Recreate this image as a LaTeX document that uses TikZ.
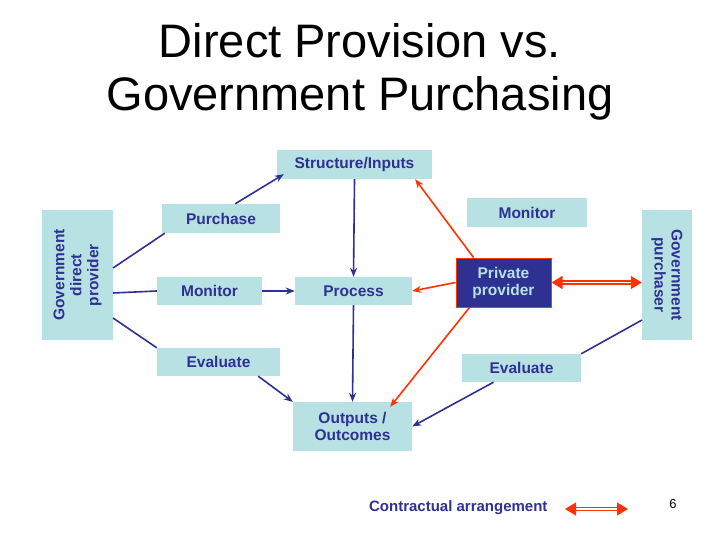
\documentclass[tikz,border=0pt]{standalone}
\usepackage{fontspec}
\setmainfont{Liberation Sans}
\usetikzlibrary{arrows.meta}
\definecolor{bx}{HTML}{B7E1E3}
\definecolor{nv}{HTML}{2E3192}
\definecolor{og}{HTML}{FF3300}
\begin{document}
\begin{tikzpicture}[x=1pt,y=-1pt,
 box/.style={fill=bx,draw=none,text=nv,font=\fontsize{15.5}{17}\selectfont\bfseries,align=center,inner sep=0pt},
 bl/.style={draw=nv,line width=1.6pt},
 ba/.style={bl,-{Stealth[length=9pt,width=7pt]}},
 oa/.style={draw=og,line width=1.6pt,-{Stealth[length=9pt,width=7pt]}},
 dbl/.style={draw=og,double=white,double distance=1.8pt,line width=1.2pt,{Triangle[length=11pt,width=13pt,fill=og]}-{Triangle[length=11pt,width=13pt,fill=og]}}]
\useasboundingbox (0,0) rectangle (720,540);
\node[font=\fontsize{47}{53}\selectfont,align=center] (t) at (360,72) {Direct Provision vs.\\Government Purchasing};
\node[box,minimum width=155pt,minimum height=29pt] (si) at (354.5,164.5) {Structure/Inputs};
\node[box,minimum width=118pt,minimum height=29pt] (pu) at (221,218.5) {Purchase};
\node[box,minimum width=120pt,minimum height=29pt] (mr) at (527,212.5) {Monitor};
\node[box,minimum width=130pt,minimum height=71pt,rotate=90] (gd) at (77.5,275) {Government\\direct\\provider};
\node[box,minimum width=130pt,minimum height=50pt,rotate=-90] (gp) at (667,275) {Government\\purchaser};
\node[box,minimum width=105pt,minimum height=28pt] (ml) at (209.5,291) {Monitor};
\node[box,minimum width=117pt,minimum height=28pt] (pr) at (353.5,291) {Process};
\node[box,fill=nv,draw=og,line width=1pt,text=bx,minimum width=95pt,minimum height=49pt] (pp) at (503.5,282.5) {Private\\provider};
\node[box,minimum width=123pt,minimum height=28pt] (el) at (218.5,362) {Evaluate};
\node[box,minimum width=119pt,minimum height=28pt] (er) at (521.5,368) {Evaluate};
\node[box,minimum width=119pt,minimum height=49pt] (oo) at (352.5,426.5) {Outputs /\\Outcomes};
\node[text=nv,font=\fontsize{15}{17}\selectfont\bfseries,anchor=east] (lg) at (551,508) {Contractual arrangement};
\node[font=\fontsize{13}{15}\selectfont] (pg) at (673,504) {6};
\coordinate (la) at (565,509); \coordinate (lb) at (628,509);
\coordinate (gd1) at (113,268); \coordinate (gd2) at (113,293); \coordinate (gd3) at (113,318);
\coordinate (gp1) at (642,320);
% blue connectors
\draw[bl] (gd1) -- ([xshift=3pt]pu.south west);
\draw[ba] ([xshift=-45pt]pu.north east) -- ([xshift=7pt,yshift=5pt]si.south west);
\draw[bl] (gd2) -- (ml.west);
\draw[ba] (ml.east) -- (pr.west);
\draw[bl] (gd3) -- (el.north west);
\draw[ba] ([xshift=-22pt]el.south east) -- (oo.north west);
\draw[ba] (si.south) -- (pr.north);
\draw[ba] (pr.south) -- (oo.north);
\draw[bl] (gp1) -- (er.north east);
\draw[ba] ([xshift=-28pt]er.south) -- (oo.east);
% orange connectors
\draw[oa] ([xshift=18pt]pp.north west) -- ([xshift=-17pt]si.south east);
\draw[oa] (pp.west) -- (pr.east);
\draw[oa] ([xshift=14pt]pp.south west) -- ([xshift=-22pt,yshift=-5pt]oo.north east);
\draw[dbl] (pp.east) -- (pp.east -| gp.south);
\draw[dbl] (la) -- (lb);
\end{tikzpicture}
\end{document}
